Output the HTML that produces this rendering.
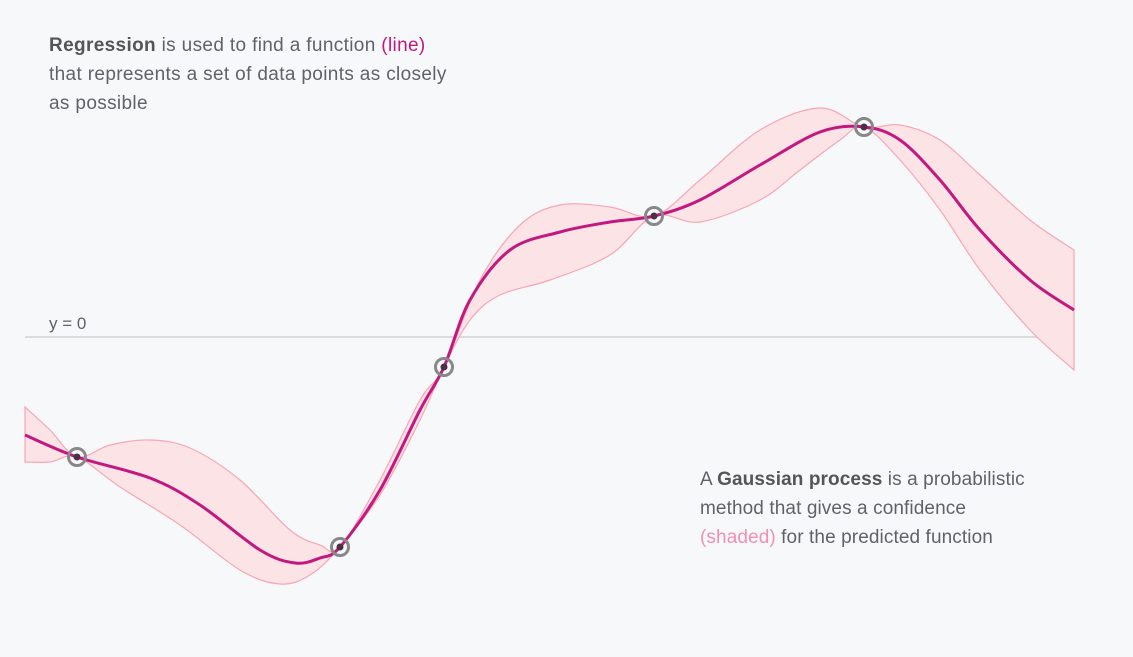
<!DOCTYPE html>
<html><head><meta charset="utf-8"><style>
body{margin:0;background:#f7f8fa;width:1133px;height:657px;overflow:hidden;font-family:"Liberation Sans",sans-serif;}
.t{position:absolute;font-size:19px;line-height:29px;color:#5f6368;white-space:nowrap;}
b{color:#555;}
</style></head><body>
<div class="t" style="left:49px;top:31px;letter-spacing:0.35px"><b>Regression</b> is used to find a function <span style="color:#c2187f">(line)</span><br>that represents a set of data points as closely<br>as possible</div>
<div class="t" style="left:700px;top:465px;letter-spacing:0.1px"><b>A</b><span style="font-weight:normal"></span> <b>Gaussian process</b> is a probabilistic<br>method that gives a confidence<br><span style="color:#f48fb1">(shaded)</span> for the predicted function</div>
<div class="t" style="left:49px;top:309px;font-size:17px">y = 0</div>
<svg width="1133" height="657" style="position:absolute;left:0;top:0">
<line x1="25" y1="337" x2="1074" y2="337" stroke="#ccc" stroke-width="1.3"/>
<path id="band" fill="#fbe3e6" stroke="#f7a6b6" stroke-width="1.2"/>
<path id="mean" fill="none" stroke="#c2187f" stroke-width="3"/>
<g id="pts"></g>
</svg>
<script>
document.querySelector('.t:nth-of-type(2) b').style.fontWeight='normal';
document.querySelector('.t:nth-of-type(2) b').style.color='#5f6368';
function cr(p){let d="M"+p[0][0]+","+p[0][1];for(let i=0;i<p.length-1;i++){const a=p[Math.max(i-1,0)],b=p[i],c=p[i+1],e=p[Math.min(i+2,p.length-1)];d+=" C"+(b[0]+(c[0]-a[0])/6)+","+(b[1]+(c[1]-a[1])/6)+" "+(c[0]-(e[0]-b[0])/6)+","+(c[1]-(e[1]-b[1])/6)+" "+c[0]+","+c[1];}return d;}
const m=[[25,435],[77,457],[150,478],[200,505],[260,550],[295,563],[320,558],[340,547],[380,490],[420,410],[444,367],[470,300],[510,250],[560,232],[610,222],[654,216],[700,200],[760,165],[820,132],[864,127],[900,140],[940,180],[980,230],[1030,280],[1074,310]];
const u=[[25,407],[50,430],[77,457],[110,445],[150,440],[190,448],[240,480],[290,530],[320,545],[340,547],[380,480],[420,400],[444,367],[480,280],[520,225],[560,205],[610,207],[654,216],[700,180],[760,130],[820,108],[864,127],[900,125],[940,140],[980,175],[1030,220],[1074,250]];
const l=[[25,462],[50,462],[77,457],[120,487],[180,525],[240,570],[280,584],[310,575],[340,547],[380,495],[420,420],[444,367],[470,320],[500,295],[550,280],[610,255],[654,216],[700,222],[760,200],[800,170],[840,140],[864,127],[900,160],[940,210],[980,270],[1030,330],[1074,370]];
const ld=cr(l.slice().reverse()).replace(/^M/,"L");
document.getElementById("band").setAttribute("d",cr(u)+" "+ld+" Z");
document.getElementById("mean").setAttribute("d",cr(m));
let g="";[[77,457],[340,547],[444,367],[654,216],[864,127]].forEach(p=>{g+=`<circle cx="${p[0]}" cy="${p[1]}" r="8.5" fill="none" stroke="#888" stroke-width="3"/><circle cx="${p[0]}" cy="${p[1]}" r="3.5" fill="#4a3040"/>`;});
document.getElementById("pts").innerHTML=g;
</script>
</body></html>
